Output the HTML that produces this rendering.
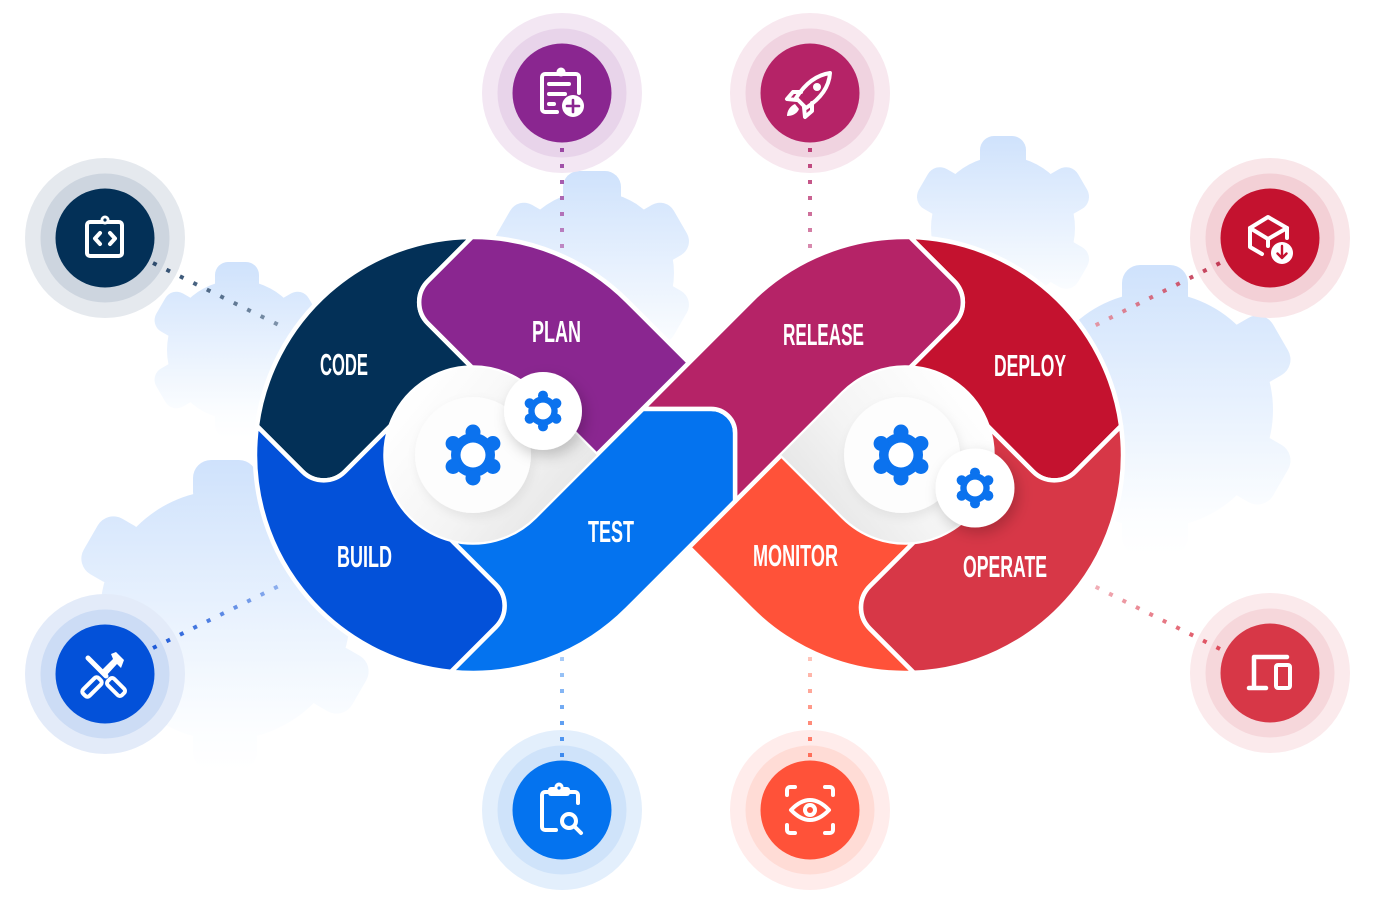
<!DOCTYPE html>
<html><head><meta charset="utf-8"><style>
html,body{margin:0;padding:0;background:#fff;}
svg{display:block;}
.lbl{font-family:"Liberation Sans Narrow","Liberation Sans",sans-serif;font-weight:bold;font-size:31px;fill:#fff;}
</style></head><body>
<svg width="1380" height="900" viewBox="0 0 1380 900" xmlns="http://www.w3.org/2000/svg">
<defs>
 <linearGradient id="gv" x1="0" y1="0" x2="0" y2="1"><stop offset="0" stop-color="#cfe2fc"/><stop offset="0.85" stop-color="#fbfdff"/><stop offset="1" stop-color="#ffffff"/></linearGradient>
 <mask id="mg1" maskUnits="userSpaceOnUse" x="0" y="0" width="1380" height="900"><g transform="translate(592,273)" fill="#fff">
  <circle r="82"/>
  <rect x="-29" y="-102" width="58" height="45" rx="16"/>
  <rect x="-29" y="-102" width="58" height="45" rx="16" transform="rotate(60)"/>
  <rect x="-29" y="-102" width="58" height="45" rx="16" transform="rotate(120)"/>
  <rect x="-29" y="-102" width="58" height="45" rx="16" transform="rotate(180)"/>
  <rect x="-29" y="-102" width="58" height="45" rx="16" transform="rotate(240)"/>
  <rect x="-29" y="-102" width="58" height="45" rx="16" transform="rotate(300)"/>
 </g></mask>
 <mask id="mg2" maskUnits="userSpaceOnUse" x="0" y="0" width="1380" height="900"><g transform="translate(1003,228)" fill="#fff">
  <circle r="72"/>
  <rect x="-23" y="-92" width="46" height="40" rx="14"/>
  <rect x="-23" y="-92" width="46" height="40" rx="14" transform="rotate(60)"/>
  <rect x="-23" y="-92" width="46" height="40" rx="14" transform="rotate(120)"/>
  <rect x="-23" y="-92" width="46" height="40" rx="14" transform="rotate(180)"/>
  <rect x="-23" y="-92" width="46" height="40" rx="14" transform="rotate(240)"/>
  <rect x="-23" y="-92" width="46" height="40" rx="14" transform="rotate(300)"/>
 </g></mask>
 <mask id="mg3" maskUnits="userSpaceOnUse" x="0" y="0" width="1380" height="900"><g transform="translate(1155,410)" fill="#fff">
  <circle r="118"/>
  <rect x="-33" y="-145" width="66" height="50" rx="18"/>
  <rect x="-33" y="-145" width="66" height="50" rx="18" transform="rotate(60)"/>
  <rect x="-33" y="-145" width="66" height="50" rx="18" transform="rotate(120)"/>
  <rect x="-33" y="-145" width="66" height="50" rx="18" transform="rotate(180)"/>
  <rect x="-33" y="-145" width="66" height="50" rx="18" transform="rotate(240)"/>
  <rect x="-33" y="-145" width="66" height="50" rx="18" transform="rotate(300)"/>
 </g></mask>
 <mask id="mg4" maskUnits="userSpaceOnUse" x="0" y="0" width="1380" height="900"><g transform="translate(237,350)" fill="#fff">
  <circle r="70"/>
  <rect x="-22" y="-88" width="44" height="38" rx="13"/>
  <rect x="-22" y="-88" width="44" height="38" rx="13" transform="rotate(60)"/>
  <rect x="-22" y="-88" width="44" height="38" rx="13" transform="rotate(120)"/>
  <rect x="-22" y="-88" width="44" height="38" rx="13" transform="rotate(180)"/>
  <rect x="-22" y="-88" width="44" height="38" rx="13" transform="rotate(240)"/>
  <rect x="-22" y="-88" width="44" height="38" rx="13" transform="rotate(300)"/>
 </g></mask>
 <mask id="mg5" maskUnits="userSpaceOnUse" x="0" y="0" width="1380" height="900"><g transform="translate(225,615)" fill="#fff">
  <circle r="125"/>
  <rect x="-32" y="-155" width="64" height="50" rx="18"/>
  <rect x="-32" y="-155" width="64" height="50" rx="18" transform="rotate(60)"/>
  <rect x="-32" y="-155" width="64" height="50" rx="18" transform="rotate(120)"/>
  <rect x="-32" y="-155" width="64" height="50" rx="18" transform="rotate(180)"/>
  <rect x="-32" y="-155" width="64" height="50" rx="18" transform="rotate(240)"/>
  <rect x="-32" y="-155" width="64" height="50" rx="18" transform="rotate(300)"/>
 </g></mask>
 <linearGradient id="holeL" x1="0.1" y1="0.15" x2="1" y2="0.75"><stop offset="0" stop-color="#ffffff"/><stop offset="0.55" stop-color="#f4f4f4"/><stop offset="1" stop-color="#e3e3e3"/></linearGradient>
 <linearGradient id="holeR" x1="0.9" y1="0.15" x2="0" y2="0.75"><stop offset="0" stop-color="#ffffff"/><stop offset="0.55" stop-color="#f4f4f4"/><stop offset="1" stop-color="#e3e3e3"/></linearGradient>
 <filter id="sh" x="-60%" y="-60%" width="220%" height="220%"><feDropShadow dx="4" dy="6" stdDeviation="7" flood-color="#000" flood-opacity="0.2"/></filter>
 <filter id="sh2" x="-40%" y="-40%" width="180%" height="180%"><feDropShadow dx="2" dy="4" stdDeviation="5" flood-color="#000" flood-opacity="0.07"/></filter>
 <linearGradient id="dCode" gradientUnits="userSpaceOnUse" x1="153" y1="263" x2="285" y2="328"><stop offset="0" stop-color="#2c4a6c"/><stop offset="1" stop-color="#8296ad"/></linearGradient>
 <linearGradient id="dBuild" gradientUnits="userSpaceOnUse" x1="153" y1="648" x2="285" y2="583"><stop offset="0" stop-color="#1e5ad8"/><stop offset="1" stop-color="#93b3ef"/></linearGradient>
 <linearGradient id="dDeploy" gradientUnits="userSpaceOnUse" x1="1220" y1="263" x2="1090" y2="328"><stop offset="0" stop-color="#c23a55"/><stop offset="1" stop-color="#e49aa8"/></linearGradient>
 <linearGradient id="dOper" gradientUnits="userSpaceOnUse" x1="1220" y1="649" x2="1090" y2="584"><stop offset="0" stop-color="#de4b5b"/><stop offset="1" stop-color="#f2b3bb"/></linearGradient>
 <linearGradient id="dPlan" gradientUnits="userSpaceOnUse" x1="0" y1="148" x2="0" y2="250"><stop offset="0" stop-color="#9a45a2"/><stop offset="1" stop-color="#bf8ac4"/></linearGradient>
 <linearGradient id="dRel" gradientUnits="userSpaceOnUse" x1="0" y1="148" x2="0" y2="250"><stop offset="0" stop-color="#bb3b75"/><stop offset="1" stop-color="#d98db0"/></linearGradient>
 <linearGradient id="dTest" gradientUnits="userSpaceOnUse" x1="0" y1="657" x2="0" y2="758"><stop offset="0" stop-color="#aacdf8"/><stop offset="1" stop-color="#3a88ee"/></linearGradient>
 <linearGradient id="dMon" gradientUnits="userSpaceOnUse" x1="0" y1="657" x2="0" y2="758"><stop offset="0" stop-color="#ffc6bc"/><stop offset="1" stop-color="#ff6c57"/></linearGradient>
 <g id="gear">
  <circle r="22"/>
  <circle cy="-23" r="7.5"/>
  <circle cx="19.92" cy="-11.5" r="7.5"/>
  <circle cx="19.92" cy="11.5" r="7.5"/>
  <circle cy="23" r="7.5"/>
  <circle cx="-19.92" cy="11.5" r="7.5"/>
  <circle cx="-19.92" cy="-11.5" r="7.5"/>
  <circle r="12.5" fill="#fff"/>
 </g>
</defs>

<!-- background gears -->
<rect x="490" y="171" width="204" height="204" fill="url(#gv)" mask="url(#mg1)"/>
<rect x="911" y="136" width="184" height="184" fill="url(#gv)" mask="url(#mg2)"/>
<rect x="1010" y="265" width="290" height="290" fill="url(#gv)" mask="url(#mg3)"/>
<rect x="149" y="262" width="176" height="176" fill="url(#gv)" mask="url(#mg4)"/>
<rect x="70" y="460" width="310" height="310" fill="url(#gv)" mask="url(#mg5)"/>

<!-- icon halos -->
<circle cx="105" cy="238" r="80" fill="#e5e9ee"/><circle cx="105" cy="238" r="64.5" fill="#cdd5df"/><circle cx="105" cy="238" r="49.5" fill="#033057"/>
<circle cx="562" cy="93" r="80" fill="#f3e7f3"/><circle cx="562" cy="93" r="64.5" fill="#e8d4ea"/><circle cx="562" cy="93" r="49.5" fill="#8a2690"/>
<circle cx="810" cy="93" r="80" fill="#f8e8ef"/><circle cx="810" cy="93" r="64.5" fill="#f0d3e0"/><circle cx="810" cy="93" r="49.5" fill="#b52367"/>
<circle cx="1270" cy="238" r="80" fill="#f9e6e9"/><circle cx="1270" cy="238" r="64.5" fill="#f3d0d6"/><circle cx="1270" cy="238" r="49.5" fill="#c4122f"/>
<circle cx="105" cy="674" r="80" fill="#e3ebf9"/><circle cx="105" cy="674" r="64.5" fill="#ccdcf5"/><circle cx="105" cy="674" r="49.5" fill="#0351d9"/>
<circle cx="562" cy="810" r="80" fill="#e3effc"/><circle cx="562" cy="810" r="64.5" fill="#cfe3fa"/><circle cx="562" cy="810" r="49.5" fill="#0473ef"/>
<circle cx="810" cy="810" r="80" fill="#ffeceb"/><circle cx="810" cy="810" r="64.5" fill="#ffdcd6"/><circle cx="810" cy="810" r="49.5" fill="#ff5239"/>
<circle cx="1270" cy="673" r="80" fill="#fbeaec"/><circle cx="1270" cy="673" r="64.5" fill="#f6d7db"/><circle cx="1270" cy="673" r="49.5" fill="#d73747"/>

<!-- dotted connectors -->
<g stroke-width="4" fill="none" stroke-dasharray="4 11">
 <line x1="153" y1="263" x2="285" y2="328" stroke="url(#dCode)"/>
 <line x1="153" y1="648" x2="285" y2="583" stroke="url(#dBuild)"/>
 <line x1="1220" y1="263" x2="1090" y2="328" stroke="url(#dDeploy)"/>
 <line x1="1220" y1="649" x2="1090" y2="584" stroke="url(#dOper)"/>
</g>
<g stroke-width="4" fill="none" stroke-dasharray="4 12">
 <line x1="562" y1="148" x2="562" y2="250" stroke="url(#dPlan)"/>
 <line x1="810" y1="148" x2="810" y2="250" stroke="url(#dRel)"/>
 <line x1="562" y1="657" x2="562" y2="758" stroke="url(#dTest)"/>
 <line x1="810" y1="657" x2="810" y2="758" stroke="url(#dMon)"/>
</g>

<!-- icons -->
<g fill="none" stroke="#fff" stroke-width="4" stroke-linecap="round" stroke-linejoin="round">
 <rect x="87" y="222" width="35" height="34" rx="3"/>
 <path d="M100 233 L95 238.5 L100 244 M110 233 L115 238.5 L110 244"/>
 <path d="M557 112 H545 a3 3 0 0 1 -3 -3 V77 a3 3 0 0 1 3 -3 H576 a3 3 0 0 1 3 3 V93"/>
 <path d="M549 84 H569 M549 94 H565 M549 104 H554"/>
 <path d="M830 73 C 829 88 820 99 806 108 L 796 98 C 805 84 816 75 830 73 Z"/>
 <path d="M801 92 L793 92 L787 99 L797 100"/>
 <path d="M812 103 L812 111 L805 117 L804 107"/>
 <path d="M1250 228 L1268 217 L1287 228 L1268 239 Z"/>
 <path d="M1250 228 V247 L1262 254"/>
 <path d="M1287 228 V238 M1268 239 V246"/>
 <line x1="88" y1="658" x2="106" y2="676" stroke-width="5"/>
 <rect x="-10" y="-4.5" width="20" height="9" rx="3" transform="translate(116,687) rotate(45)"/>
 <rect x="-11" y="-4.5" width="22" height="9" rx="3" transform="translate(92,687) rotate(-45)"/>
 <path d="M556 830 H545 a3 3 0 0 1 -3 -3 V795 a3 3 0 0 1 3 -3 H548"/>
 <path d="M570 792 H575 a3 3 0 0 1 3 3 V803"/>
 <circle cx="569" cy="821" r="7"/>
 <path d="M574.5 826.5 L581 833"/>
 <path d="M787 795 V790 a3 3 0 0 1 3 -3 H795 M825 787 H830 a3 3 0 0 1 3 3 V795 M833 825 V830 a3 3 0 0 1 -3 3 H825 M795 833 H790 a3 3 0 0 1 -3 -3 V825"/>
 <path d="M791 810 Q 810 790 829 810 Q 810 830 791 810 Z"/>
 <path d="M1287 657 H1254 V687" stroke-width="4.5"/>
 <path d="M1249 688 H1266" stroke-width="4.5"/>
 <rect x="1276" y="665" width="14" height="23" rx="2"/>
</g>
<circle cx="105" cy="220" r="4.5" fill="#fff"/><circle cx="105" cy="220" r="1.6" fill="#033057"/>
<circle cx="561" cy="72" r="4.5" fill="#fff"/>
<circle cx="573" cy="106" r="11" fill="#fff"/>
<path d="M573 100 V112 M567 106 H579" stroke="#8a2690" stroke-width="2.6" stroke-linecap="round"/>
<circle cx="817" cy="87" r="4" fill="#fff"/>
<path d="M795 104 C 790 106 787 111 787 116 C 792 116 797 114 799 109 Z" fill="#fff"/>
<circle cx="1282" cy="253" r="11" fill="#fff"/>
<path d="M1282 246 V258 M1277.5 253.5 L1282 258 L1286.5 253.5" stroke="#c4122f" stroke-width="2.4" fill="none" stroke-linecap="round" stroke-linejoin="round"/>
<path d="M101 671 L113 659 L111 654 L116 652 L124 660 L121 668 L117 664 L106 676 Z" fill="#fff"/>
<rect x="548" y="787" width="22" height="9" rx="3" fill="#fff"/>
<circle cx="559" cy="787" r="4.5" fill="#fff"/><circle cx="559" cy="788" r="1.6" fill="#0473ef"/>
<circle cx="810" cy="810" r="7" fill="#fff"/><circle cx="810" cy="810" r="3" fill="#ff5239"/>

<!-- infinity pieces -->
<g stroke="#fff" stroke-width="4.5" stroke-linejoin="round">
 <path fill="#033057" d="M472 237 A218 218 0 0 0 256.94 426 L302.49 471.54 C314.2 483.25 333.2 483.25 344.91 471.54 L390.45 426 A87.5 87.5 0 0 1 472 367.5 L427.96 323.46 C416.25 311.75 416.25 292.75 427.96 281.04 Z"/>
 <path fill="#0351d9" d="M256.94 426 A218 218 0 0 0 451 671.89 L495.89 627 C507.6 615.29 507.6 596.29 495.89 584.58 L451 539.69 A87.5 87.5 0 0 1 390.45 426 L344.91 471.54 C333.2 483.25 314.2 483.25 302.49 471.54 Z"/>
 <path fill="#8a2690" d="M472 237 A218 218 0 0 1 627.15 300.85 L689 362.72 L596.72 455 L534.87 393.13 A87.5 87.5 0 0 0 472 367.5 L427.96 323.46 C416.25 311.75 416.25 292.75 427.96 281.04 Z"/>
 <path fill="#ff5239" d="M914 672.81 A218 218 0 0 1 750.85 609.15 L689 547.28 L781.28 455 L843.13 516.87 A87.5 87.5 0 0 0 914 542.04 L869.82 586.22 C858.11 597.93 858.11 616.93 869.82 628.64 Z"/>
 <path fill="#c4122f" d="M910 237.06 A218 218 0 0 1 1121.06 426 L1075.52 471.54 C1063.81 483.25 1044.81 483.25 1033.1 471.54 L987.55 426 A87.5 87.5 0 0 0 910 367.64 L954.08 323.56 C965.79 311.85 965.79 292.85 954.08 281.14 Z"/>
 <path fill="#d73747" d="M1121.06 426 A218 218 0 0 1 914 672.81 L869.82 628.64 C858.11 616.93 858.11 597.93 869.82 586.22 L914 542.04 A87.5 87.5 0 0 0 987.55 426 L1033.1 471.54 C1044.81 483.25 1063.81 483.25 1075.52 471.54 Z"/>
 <path fill="#0473ef" d="M451 671.89 A218 218 0 0 0 627.15 609.15 L735.15 501.13 L735.15 432.85 C735.15 419.59 724.41 408.85 711.15 408.85 L642.87 408.85 L534.87 516.87 A87.5 87.5 0 0 1 451 539.69 L495.89 584.58 C507.6 596.29 507.6 615.29 495.89 627 Z"/>
 <path fill="#b52367" d="M642.87 408.85 L750.85 300.85 A218 218 0 0 1 910 237.06 L954.08 281.14 C965.79 292.85 965.79 311.85 954.08 323.56 L910 367.64 A87.5 87.5 0 0 0 843.13 393.13 L735.15 501.13 L735.15 432.85 C735.15 419.59 724.41 408.85 711.15 408.85 Z"/>
</g>

<!-- holes -->
<path fill="url(#holeL)" d="M534.87 393.13 L596.72 455 L534.87 516.87 A87.5 87.5 0 1 1 534.87 393.13 Z"/>
<path fill="url(#holeR)" d="M843.13 393.13 L781.28 455 L843.13 516.87 A87.5 87.5 0 1 0 843.13 393.13 Z"/>
<circle cx="473" cy="455" r="58" fill="#fdfdfd" filter="url(#sh2)"/>
<circle cx="902" cy="455" r="58" fill="#fdfdfd" filter="url(#sh2)"/>
<use href="#gear" fill="#0b72ee" transform="translate(473,455)"/>
<use href="#gear" fill="#0b72ee" transform="translate(901,455)"/>
<circle cx="543" cy="411" r="39" fill="#fff" filter="url(#sh)"/>
<circle cx="975" cy="488" r="39.5" fill="#fff" filter="url(#sh)"/>
<use href="#gear" fill="#0b72ee" transform="translate(543,411) scale(0.67)"/>
<use href="#gear" fill="#0b72ee" transform="translate(975,488) scale(0.67)"/>

<!-- labels -->
<text class="lbl" x="320" y="375" textLength="48" lengthAdjust="spacingAndGlyphs">CODE</text>
<text class="lbl" x="532" y="342" textLength="49" lengthAdjust="spacingAndGlyphs">PLAN</text>
<text class="lbl" x="337" y="567" textLength="55" lengthAdjust="spacingAndGlyphs">BUILD</text>
<text class="lbl" x="588" y="542" textLength="46" lengthAdjust="spacingAndGlyphs">TEST</text>
<text class="lbl" x="783" y="345" textLength="81" lengthAdjust="spacingAndGlyphs">RELEASE</text>
<text class="lbl" x="994" y="376" textLength="72" lengthAdjust="spacingAndGlyphs">DEPLOY</text>
<text class="lbl" x="753" y="566" textLength="85" lengthAdjust="spacingAndGlyphs">MONITOR</text>
<text class="lbl" x="963" y="577" textLength="84" lengthAdjust="spacingAndGlyphs">OPERATE</text>
</svg>
</body></html>
